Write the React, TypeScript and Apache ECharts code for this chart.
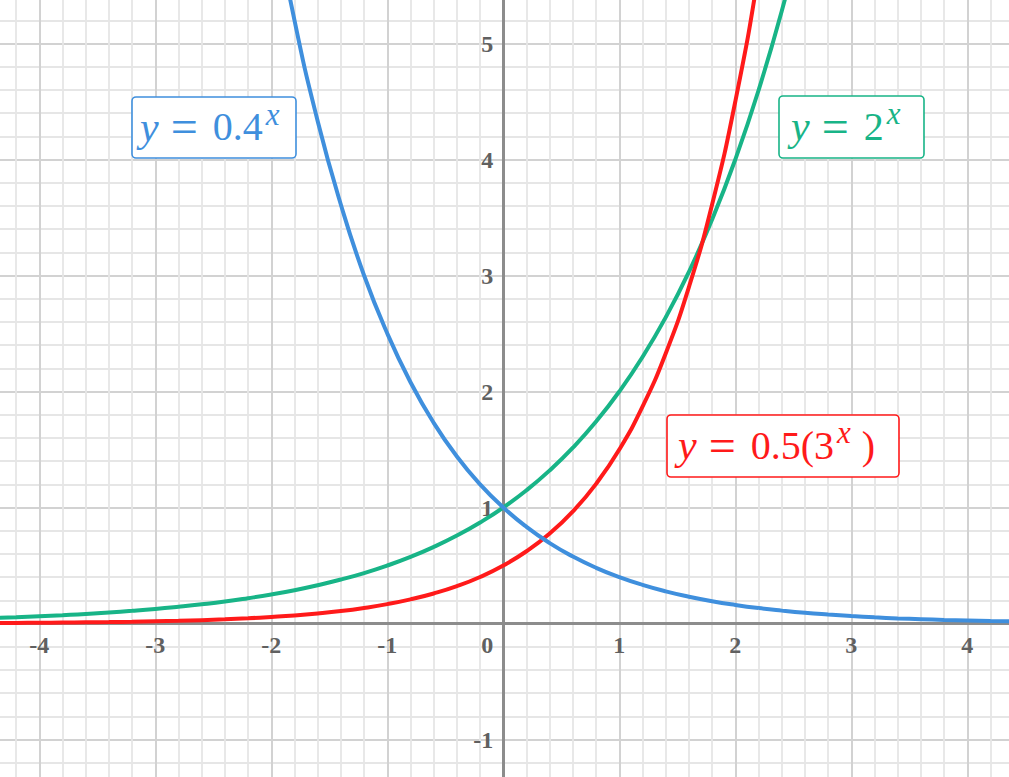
import React, { useEffect, useRef } from "react";
import * as echarts from "echarts";

// y = 0.4^x
const blueX = [-2.2, -2.0, -1.8, -1.6, -1.4, -1.2, -1.0, -0.8, -0.6, -0.4, -0.2, 0, 0.2, 0.4, 0.6, 0.8, 1.0, 1.2, 1.4, 1.6, 1.8, 2.0, 2.2, 2.4, 2.6, 2.8, 3.0, 3.2, 3.4, 3.6, 3.8, 4.0, 4.2, 4.4];
const blueY = [7.51, 6.25, 5.2, 4.33, 3.61, 3.0, 2.5, 2.08, 1.73, 1.44, 1.2, 1.0, 0.833, 0.693, 0.577, 0.48, 0.4, 0.333, 0.277, 0.231, 0.192, 0.16, 0.133, 0.111, 0.092, 0.077, 0.064, 0.053, 0.044, 0.037, 0.031, 0.026, 0.021, 0.018];

// y = 2^x
const greenX = [-4.4, -4.2, -4.0, -3.8, -3.6, -3.4, -3.2, -3.0, -2.8, -2.6, -2.4, -2.2, -2.0, -1.8, -1.6, -1.4, -1.2, -1.0, -0.8, -0.6, -0.4, -0.2, 0, 0.2, 0.4, 0.6, 0.8, 1.0, 1.2, 1.4, 1.6, 1.8, 2.0, 2.2, 2.4, 2.6, 2.8];
const greenY = [0.047, 0.054, 0.063, 0.072, 0.082, 0.095, 0.109, 0.125, 0.144, 0.165, 0.189, 0.218, 0.25, 0.287, 0.33, 0.379, 0.435, 0.5, 0.574, 0.66, 0.758, 0.871, 1.0, 1.149, 1.32, 1.516, 1.741, 2.0, 2.297, 2.639, 3.031, 3.482, 4.0, 4.595, 5.278, 6.063, 6.964];

// y = 0.5(3^x)
const redX = [-4.4, -4.2, -4.0, -3.8, -3.6, -3.4, -3.2, -3.0, -2.8, -2.6, -2.4, -2.2, -2.0, -1.8, -1.6, -1.4, -1.2, -1.0, -0.8, -0.6, -0.4, -0.2, 0, 0.2, 0.4, 0.6, 0.8, 1.0, 1.2, 1.4, 1.6, 1.8, 2.0, 2.2, 2.4];
const redY = [0.004, 0.005, 0.006, 0.008, 0.01, 0.012, 0.015, 0.019, 0.023, 0.029, 0.036, 0.045, 0.056, 0.069, 0.086, 0.107, 0.134, 0.167, 0.208, 0.259, 0.322, 0.401, 0.5, 0.623, 0.776, 0.967, 1.204, 1.5, 1.869, 2.328, 2.9, 3.612, 4.5, 5.606, 6.983];

// tick values that fall inside the visible window
const xTickLabels = [-4, -3, -2, -1, 0, 1, 2, 3, 4];
const yTickLabels = [-1, 1, 2, 3, 4, 5];

const BLUE = "#3f8fdd";
const GREEN = "#18b487";
const RED = "#ff1a1a";

const SERIF = "Liberation Serif";

const pairs = (xs: number[], ys: number[]) => xs.map((x, i) => [x, ys[i]]);

// rich text styles for the formula boxes
const mathRich = (color: string) => ({
  v: { fontFamily: SERIF, fontStyle: "italic", fontSize: 42, fill: color, lineHeight: 56 },
  o: { fontFamily: SERIF, fontSize: 48, fill: color, lineHeight: 56, padding: [0, 15, 0, 12] },
  n: { fontFamily: SERIF, fontSize: 40, fill: color, lineHeight: 56 },
  p: { fontFamily: SERIF, fontSize: 40, fill: color, lineHeight: 56, padding: [0, 0, 0, 10] },
  s: { fontFamily: SERIF, fontStyle: "italic", fontSize: 31, fill: color, lineHeight: 28, verticalAlign: "top", padding: [0, 1, 0, 3] }
});

const formulaBox = (x: number, y: number, w: number, h: number, tx: number, color: string, text: string) => [
  {
    type: "rect",
    shape: { x, y, width: w, height: h, r: 4 },
    style: { fill: "#ffffff", stroke: color, lineWidth: 1.6 },
    z: 10
  },
  {
    type: "text",
    x: x + tx,
    y: y + h / 2 - 1,
    style: { text, rich: mathRich(color), fill: color, fontFamily: SERIF, fontSize: 40, align: "left", verticalAlign: "middle" },
    z: 11
  }
];

const labelStyle = { color: "#606060", fontFamily: SERIF, fontWeight: "bold", fontSize: 24 };

export default function App() {
  const chartRef = useRef<HTMLDivElement>(null);

  useEffect(() => {
    if (!chartRef.current) return;
    document.body.style.margin = "0";
    const chart = echarts.init(chartRef.current, null, { renderer: "svg" });

    chart.setOption({
      animation: false,
      backgroundColor: "#ffffff",
      // grid spans x -5..5, y -2..6 and reaches past the canvas edges,
      // so only the window -4.34..4.36 / -1.32..5.37 is visible
      grid: { left: -76.7, right: -74.3, top: -72.5, bottom: -78.5, outerBoundsMode: "none", containLabel: false },
      xAxis: {
        type: "value",
        min: -5,
        max: 5,
        interval: 1,
        position: "bottom",
        offset: -232, // pull the axis up to y = 0
        axisLine: { onZero: false, lineStyle: { color: "#8c8c8c", width: 3 } },
        axisTick: { show: false },
        splitLine: { show: true, lineStyle: { color: "#d2d2d2", width: 2 } },
        minorTick: { show: false, splitNumber: 5 },
        minorSplitLine: { show: true, lineStyle: { color: "#e6e6e6", width: 1.8 } },
        axisLabel: {
          ...labelStyle,
          margin: 9,
          formatter: (v: number) => {
            if (!xTickLabels.includes(v)) return "";
            return v === 0 ? "{z|0}" : String(v);
          },
          rich: { z: { ...labelStyle, padding: [0, 32, 0, 0] } }
        }
      },
      yAxis: {
        type: "value",
        min: -2,
        max: 6,
        interval: 1,
        position: "left",
        offset: -580, // push the axis right to x = 0
        axisLine: { onZero: false, lineStyle: { color: "#8c8c8c", width: 3 } },
        axisTick: { show: false },
        splitLine: { show: true, lineStyle: { color: "#d2d2d2", width: 2 } },
        minorTick: { show: false, splitNumber: 5 },
        minorSplitLine: { show: true, lineStyle: { color: "#e6e6e6", width: 1.8 } },
        axisLabel: {
          ...labelStyle,
          margin: 10,
          formatter: (v: number) => (yTickLabels.includes(v) ? String(v) : "")
        }
      },
      series: [
        {
          name: "y = 2^x",
          type: "line",
          data: pairs(greenX, greenY),
          smooth: true,
          showSymbol: false,
          symbol: "none",
          lineStyle: { color: GREEN, width: 4 }
        },
        {
          name: "y = 0.5(3^x)",
          type: "line",
          data: pairs(redX, redY),
          smooth: true,
          showSymbol: false,
          symbol: "none",
          lineStyle: { color: RED, width: 4 }
        },
        {
          name: "y = 0.4^x",
          type: "line",
          data: pairs(blueX, blueY),
          smooth: true,
          showSymbol: false,
          symbol: "none",
          lineStyle: { color: BLUE, width: 4 }
        }
      ],
      graphic: [
        ...formulaBox(132, 97, 164, 61, 8, BLUE, "{v|y}{o|=}{n|0.4}{s|x}"),
        ...formulaBox(779, 96, 145, 62, 12, GREEN, "{v|y}{o|=}{n|2}{s|x}"),
        ...formulaBox(667, 415, 232, 62, 11, RED, "{v|y}{o|=}{n|0.5(3}{s|x}{p|)}")
      ]
    });

    return () => {
      chart.dispose();
    };
  }, []);

  return (
    <div
      ref={chartRef}
      style={{ position: "fixed", left: 0, top: 0, width: 1009, height: 777, background: "#ffffff" }}
    ></div>
  );
}
